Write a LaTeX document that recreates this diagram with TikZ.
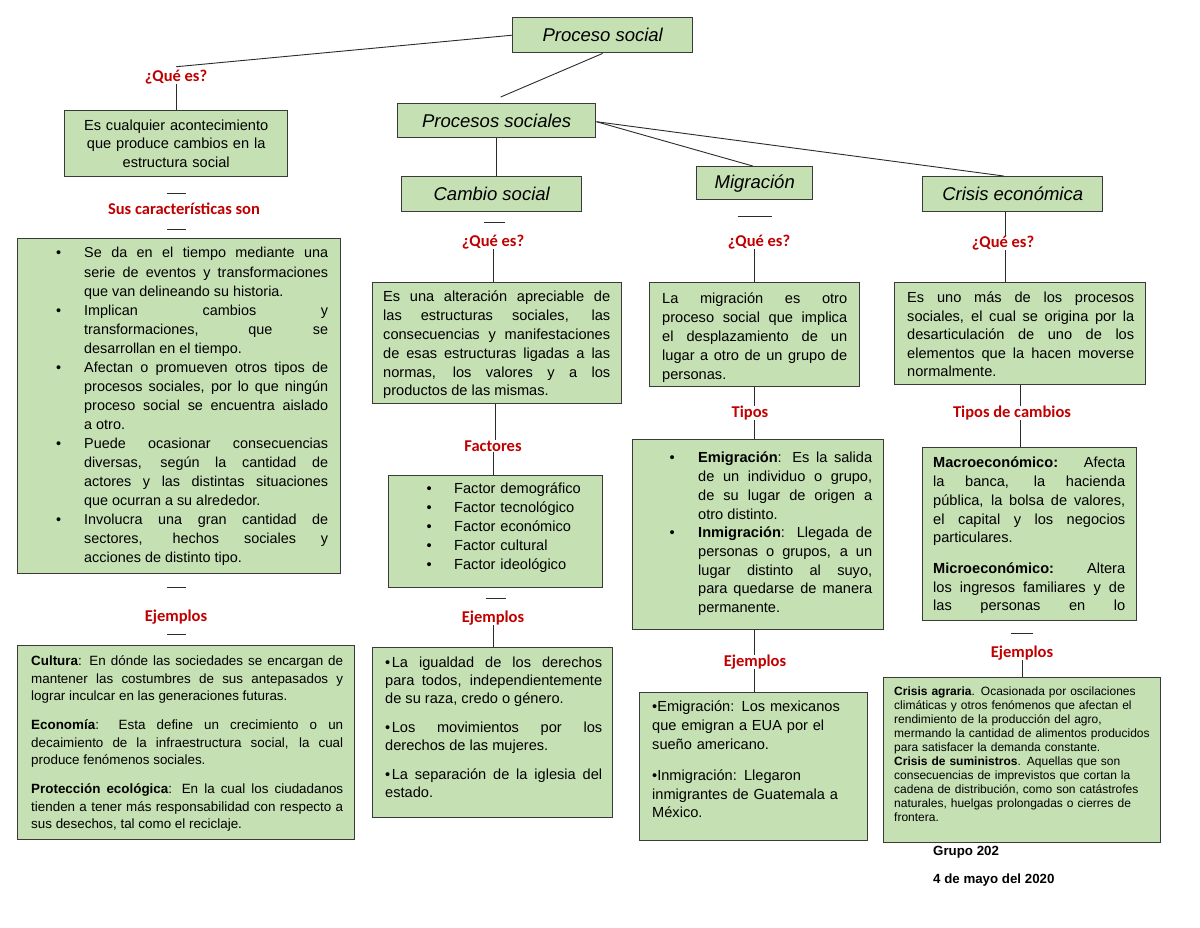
\documentclass[tikz,border=0pt]{standalone}
\usepackage{fontspec}
\setmainfont{Liberation Sans}
\newfontfamily\carlito{Carlito}
\definecolor{boxfill}{HTML}{C5E0B3}
\definecolor{boxdraw}{HTML}{3A3A3A}
\definecolor{lblred}{HTML}{C00000}
\definecolor{linecol}{HTML}{2B2B2B}
\newcommand\fsz[2]{\fontsize{#1}{#2}\selectfont}
\newcommand\tx[3]{\fontsize{#1}{#2}\selectfont\parindent=0pt\parskip=#3pt\tolerance=10000\hyphenpenalty=10000\relax}
\newcommand\bitem[1]{\noindent\llap{\textbullet\hspace{#1}}}
\begin{document}
\begin{tikzpicture}[x=1pt,y=-1pt,
 box/.style={draw=boxdraw, fill=boxfill, line width=1.4pt, inner sep=0pt, anchor=north west},
 title/.style={font=\fsz{18.5}{22}\itshape},
 lbl/.style={text=lblred, font=\carlito\bfseries\fsz{16.5}{18}, inner sep=0pt},
 conn/.style={draw=linecol, line width=0.9pt},
 dashl/.style={draw=linecol, line width=1pt},
 txt/.style={anchor=north west, inner sep=0pt, align=justify},
 txl/.style={anchor=north west, inner sep=0pt, align=left},
]
\fill[white] (0,0) rectangle (1200,927);
\useasboundingbox (0,0) rectangle (1200,927);

% ---------- top ----------
\node[box, title, minimum width=180pt, minimum height=35pt] (ps) at (512,17) {Proceso social};
\node[box, title, minimum width=198pt, minimum height=34pt] (pss) at (397,103) {Procesos sociales};
\node[box, title, minimum width=180pt, minimum height=35pt] (cs) at (401,176) {Cambio social};
\node[box, title, minimum width=116pt, minimum height=33pt] (mig) at (696,166) {Migración};
\node[box, title, minimum width=180pt, minimum height=35pt] (ce) at (922,176) {Crisis económica};

% ---------- left column ----------
\node[lbl] (q1) at (176,77) {¿Qué es?};
\node[box, minimum width=223pt, minimum height=66pt, text width=215pt, align=center, font=\tx{14.6}{18.5}{0}] (b1) at (64,110) {Es cualquier acontecimiento\\ que produce cambios en la\\ estructura social};
\node[lbl] (sc) at (184,209) {Sus características son};
\node[box, minimum width=323pt, minimum height=335pt] (car) at (17,238) {};
\node[txt, text width=244pt, font=\tx{14.4}{19.06}{0}] (cart) at (84,244.4) {%
\bitem{23pt}\strut Se da en el tiempo mediante una\linebreak serie de eventos y transformaciones\linebreak que van delineando su historia.\par
\bitem{23pt}Implican cambios y\linebreak transformaciones, que se\linebreak desarrollan en el tiempo.\par
\bitem{23pt}Afectan o promueven otros tipos de\linebreak procesos sociales, por lo que ningún\linebreak proceso social se encuentra aislado\linebreak a otro.\par
\bitem{23pt}Puede ocasionar consecuencias\linebreak diversas, según la cantidad de\linebreak actores y las distintas situaciones\linebreak que ocurran a su alrededor.\par
\bitem{23pt}Involucra una gran cantidad de\linebreak sectores, hechos sociales y\linebreak acciones de distinto tipo.};
\node[lbl] (e1) at (176,617) {Ejemplos};
\node[box, minimum width=337pt, minimum height=194pt] (ej1) at (17,645) {};
\node[txt, text width=312pt, font=\tx{13.4}{17.5}{11.5}] (ej1t) at (31,653.2) {%
\strut\textbf{Cultura}: En dónde las sociedades se encargan de\linebreak mantener las costumbres de sus antepasados y\linebreak lograr inculcar en las generaciones futuras.\par
\textbf{Economía}: Esta define un crecimiento o un\linebreak decaimiento de la infraestructura social, la cual\linebreak produce fenómenos sociales.\par
\textbf{Protección ecológica}: En la cual los ciudadanos\linebreak tienden a tener más responsabilidad con respecto a\linebreak sus desechos, tal como el reciclaje.};

% ---------- cambio social column ----------
\node[lbl] (q2) at (493,242) {¿Qué es?};
\node[box, minimum width=249pt, minimum height=121pt] (cdef) at (372,282) {};
\node[txt, text width=227pt, font=\tx{14.6}{18.8}{0}] (cdeft) at (383,288.6) {%
\strut Es una alteración apreciable de\linebreak las estructuras sociales, las\linebreak consecuencias y manifestaciones\linebreak de esas estructuras ligadas a las\linebreak normas, los valores y a los\linebreak productos de las mismas.};
\node[lbl] (fac) at (493,446) {Factores};
\node[box, minimum width=214pt, minimum height=112pt] (facb) at (388,475) {};
\node[txl, text width=140pt, font=\tx{14.6}{19}{0}] (fact) at (454,479.5) {%
\bitem{22.4pt}\strut Factor demográfico\par
\bitem{22.4pt}Factor tecnológico\par
\bitem{22.4pt}Factor económico\par
\bitem{22.4pt}Factor cultural\par
\bitem{22.4pt}Factor ideológico};
\node[lbl] (e2) at (493,618) {Ejemplos};
\node[box, minimum width=240pt, minimum height=170pt] (ej2) at (372,647) {};
\node[txt, text width=217pt, font=\tx{14.6}{18.3}{10.5}] (ej2t) at (385,654) {%
\strut\textbullet\hspace{1.5pt}La igualdad de los derechos\linebreak para todos, independientemente\linebreak de su raza, credo o género.\par
\textbullet\hspace{1.5pt}Los movimientos por los\linebreak derechos de las mujeres.\par
\textbullet\hspace{1.5pt}La separación de la iglesia del\linebreak estado.};

% ---------- migracion column ----------
\node[lbl] (q3) at (759,242) {¿Qué es?};
\node[box, minimum width=210pt, minimum height=104pt] (mdef) at (649,282) {};
\node[txt, text width=185pt, font=\tx{14.6}{19}{0}] (mdeft) at (662,289.5) {%
\strut La migración es otro\linebreak proceso social que implica\linebreak el desplazamiento de un\linebreak lugar a otro de un grupo de\linebreak personas.};
\node[lbl] (tp) at (750,413) {Tipos};
\node[box, minimum width=251pt, minimum height=190pt] (tipb) at (632,439) {};
\node[txt, text width=174pt, font=\tx{14.6}{18.7}{0}] (tipt) at (698,449.7) {%
\bitem{23.4pt}\strut\textbf{Emigración}: Es la salida\linebreak de un individuo o grupo,\linebreak de su lugar de origen a\linebreak otro distinto.\par
\bitem{23.4pt}\textbf{Inmigración}: Llegada de\linebreak personas o grupos, a un\linebreak lugar distinto al suyo,\linebreak para quedarse de manera\linebreak permanente.};
\node[lbl] (e3) at (755,662) {Ejemplos};
\node[box, minimum width=228pt, minimum height=148pt] (ej3) at (639,692) {};
\node[txl, text width=215pt, font=\tx{14.6}{18.8}{12}] (ej3t) at (652,698.6) {%
\strut\textbullet Emigración: Los mexicanos\\ que emigran a EUA por el\\ sueño americano.\par
\textbullet Inmigración: Llegaron\\ inmigrantes de Guatemala a\\ México.};

% ---------- crisis column ----------
\node[lbl] (q4) at (1003,243) {¿Qué es?};
\node[box, minimum width=251pt, minimum height=102pt] (cdef2) at (894,282) {};
\node[txt, text width=227pt, font=\tx{14.6}{18.5}{0}] (cdef2t) at (907,289.8) {%
\strut Es uno más de los procesos\linebreak sociales, el cual se origina por la\linebreak desarticulación de uno de los\linebreak elementos que la hacen moverse\linebreak normalmente.};
\node[lbl] (tc) at (1012,413) {Tipos de cambios};
\node[box, minimum width=214pt, minimum height=173pt] (mac) at (922,447) {};
\node[txt, text width=192pt, font=\tx{14.6}{18.7}{12}] (mact) at (933,454.7) {%
\strut\textbf{Macroeconómico:} Afecta\linebreak la banca, la hacienda\linebreak pública, la bolsa de valores,\linebreak el capital y los negocios\linebreak particulares.\par
{\parfillskip=0pt \textbf{Microeconómico:} Altera\linebreak los ingresos familiares y de\linebreak las personas en lo\par}};
\node[lbl] (e4) at (1022,653) {Ejemplos};
\node[box, minimum width=277pt, minimum height=165pt] (agr) at (883,677) {};
\node[txl, text width=262pt, font=\tx{12}{14}{0}] (agrt) at (894,685.2) {%
\strut\textbf{Crisis agraria}. Ocasionada por oscilaciones\\ climáticas y otros fenómenos que afectan el\\ rendimiento de la producción del agro,\\ mermando la cantidad de alimentos producidos\\ para satisfacer la demanda constante.\\ \textbf{Crisis de suministros}. Aquellas que son\\ consecuencias de imprevistos que cortan la\\ cadena de distribución, como son catástrofes\\ naturales, huelgas prolongadas o cierres de\\ frontera.};

\node[anchor=west, inner sep=0pt, font=\bfseries\fsz{13.3}{15}] (gr) at (933,852) {Grupo 202};
\node[anchor=west, inner sep=0pt, font=\bfseries\fsz{13.3}{15}] (dt) at (933,880) {4 de mayo del 2020};

% ---------- connectors ----------
\draw[conn] (ps.west) -- ([yshift=3pt]q1.north);
\draw[conn] (ps.south) -- ([xshift=4pt,yshift=6pt]pss.north);
\draw[conn] (pss.south) -- (pss.south |- cs.north);
\draw[conn] ([yshift=-1pt]pss.east) -- ([xshift=-2pt]mig.north);
\draw[conn] ([yshift=-1pt]pss.east) -- ([xshift=-9pt]ce.north);

\draw[conn] (q1.south) -- (q1.south |- b1.north);
\draw[dashl] ([xshift=-9pt,yshift=-16pt]b1.south) -- ++(19,0);
\draw[dashl] ([xshift=-12pt,yshift=9pt]car.north) -- ++(19,0);
\draw[dashl] ([xshift=-12pt,yshift=-13pt]car.south) -- ++(19,0);
\draw[dashl] ([xshift=-19pt,yshift=11pt]ej1.north) -- ++(19,0);

\draw[dashl] ([xshift=-8pt,yshift=-10pt]cs.south) -- ++(21,0);
\draw[conn] (q2.south) -- (q2.south |- cdef.north);
\draw[conn] ([xshift=-2pt]cdef.south) -- ([xshift=-2pt]cdef.south |- fac.north);
\draw[conn] (fac.south) -- (fac.south |- facb.north);
\draw[dashl] ([xshift=-10pt,yshift=-10pt]facb.south) -- ++(20,0);
\draw[conn] (e2.south) -- (e2.south |- ej2.north);

\draw[dashl] ([xshift=-17pt,yshift=-16pt]mig.south) -- ++(34,0);
\draw[conn] (mdef.north) -- (mdef.north |- q3.south);
\draw[conn] (mdef.south) -- (mdef.south |- tp.north);
\draw[conn] (mdef.south |- tp.south) -- (mdef.south |- tipb.north);
\draw[conn] (e3.north -| mdef.south) -- (tipb.south -| mdef.south);
\draw[conn] (e3.south -| mdef.south) -- (ej3.north -| mdef.south);

\draw[conn] ([xshift=2pt]q4.north |- ce.south) -- ([xshift=2pt]q4.north);
\draw[conn] ([xshift=2pt]q4.south) -- ([xshift=2pt]q4.south |- cdef2.north);
\draw[conn] ([xshift=0.5pt]cdef2.south) -- ([xshift=0.5pt]cdef2.south |- tc.north);
\draw[conn] ([xshift=0.5pt]cdef2.south |- tc.south) -- ([xshift=0.5pt]cdef2.south |- mac.north);
\draw[dashl] ([xshift=-19pt,yshift=-12pt]mac.south) -- ++(22,0);
\draw[conn] (e4.south) -- (e4.south |- agr.north);
\end{tikzpicture}
\end{document}
